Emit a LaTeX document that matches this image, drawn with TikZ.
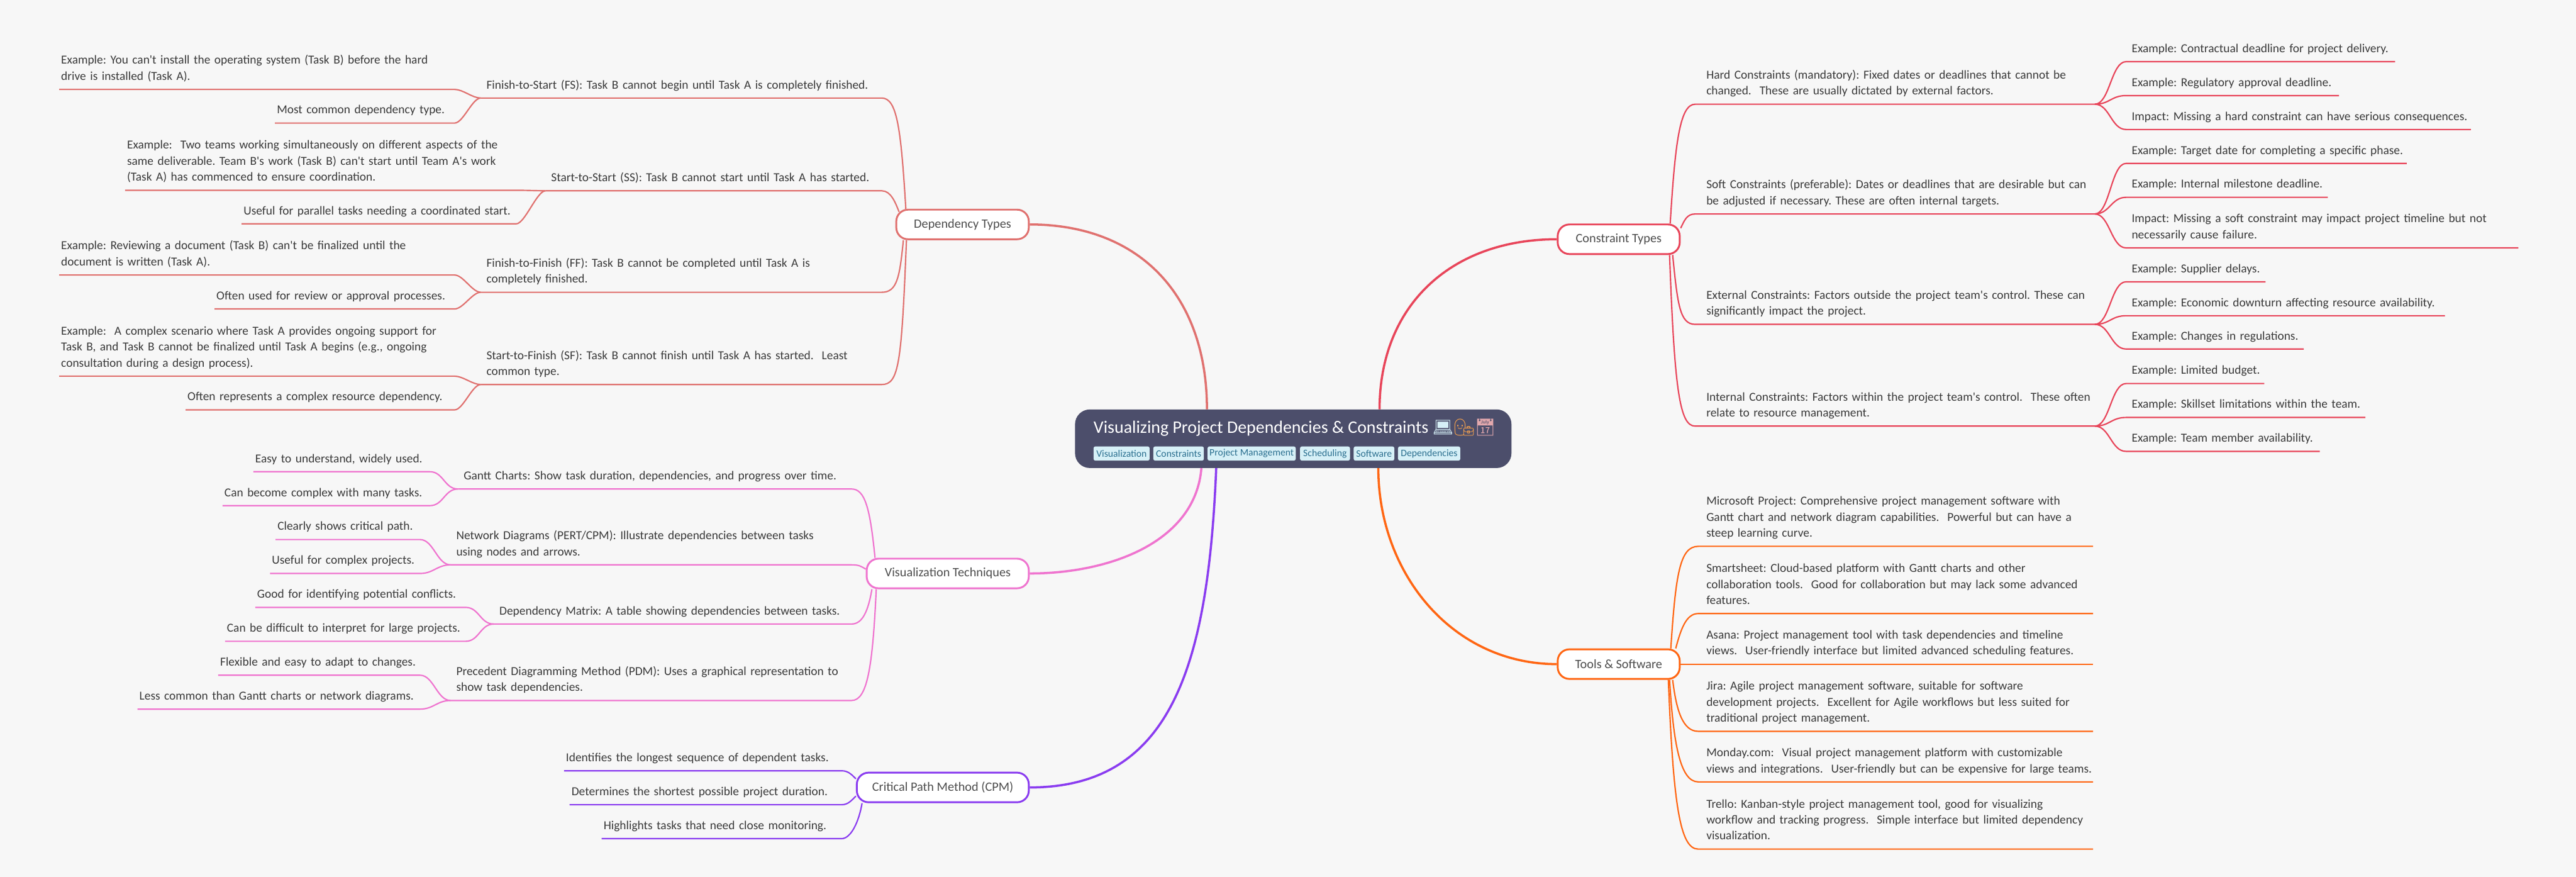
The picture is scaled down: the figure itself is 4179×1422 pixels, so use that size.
\documentclass[tikz,border=0pt]{standalone}
\usepackage{fontspec}
\newfontfamily\mapfont{Carlito}
\newfontfamily\emojifont{Noto Emoji}
\definecolor{bgcol}{HTML}{F7F7F7}
\definecolor{rootcol}{HTML}{4C4E6B}
\definecolor{textcol}{HTML}{3A3A3A}
\definecolor{hubtext}{HTML}{4D4D4D}
\definecolor{tagfill}{HTML}{D6F0F7}
\definecolor{tagtext}{HTML}{2B6F8F}
\definecolor{depcol}{HTML}{E0716F}
\definecolor{viscol}{HTML}{EF74CF}
\definecolor{cpmcol}{HTML}{8A3CF0}
\definecolor{conscol}{HTML}{E8455A}
\definecolor{toolcol}{HTML}{FF6613}
\tikzset{
  item/.style 2 args={anchor=south west,inner xsep=0pt,inner ysep=7pt,text width=#1pt,align=left,
    text=textcol,execute at begin node={\leftskip=#2pt\relax\rightskip=-40pt plus 1fil\relax},execute at end node={\strut}},
  lleaf/.style={item={#1}{3}},
  rleaf/.style={item={#1}{9}},
  mid/.style={item={#1}{9}},
  rmid/.style={item={#1}{18}},
  tool/.style={item={#1}{13}},
  hub/.style={draw=#1,line width=3pt,fill=white,rounded corners=19pt,minimum height=48pt,text=hubtext,inner sep=0pt,font=\mapfont\frenchspacing\fontsize{20.7}{26}\selectfont},
  tagbox/.style={fill=tagfill,rounded corners=3pt,minimum height=23pt,inner sep=0pt,text=tagtext,font=\mapfont\fontsize{16}{20}\selectfont},
  twig/.style={draw=#1,line width=2.2pt},
  limb/.style={draw=#1,line width=3.6pt}
}
\begin{document}
\begin{tikzpicture}[x=1pt,y=-1pt,font=\mapfont\frenchspacing\fontsize{19.8}{26}\selectfont]
    \useasboundingbox (0,0) rectangle (4179,1422);
    \fill[bgcol] (0,0) rectangle (4179,1422);
    % centre
    \node[fill=rootcol,rounded corners=24pt,minimum width=708pt,minimum height=95pt,inner sep=0pt] (root) at (2098,711.5) {};
    \node[anchor=west,inner sep=0pt,text=white,font=\mapfont\frenchspacing\fontsize{28.5}{36}\selectfont] (title) at (1774,693) {Visualizing Project Dependencies \& Constraints {\emojifont\fontsize{27}{36}\selectfont\textcolor{tagfill}{^^^^^^01f4bb}\textcolor{orange!70!white}{^^^^^^01f468^^^^200d^^^^^^01f4bc}\textcolor{red!30!tagfill}{^^^^^^01f4c5}}};
    \node[tagbox,minimum width=91pt] (tagvis) at (1819.5,735.5) {Visualization};
    \node[tagbox,minimum width=82pt] (tagcons) at (1912,735.5) {Constraints};
    \node[tagbox,minimum width=143pt] (tagpm) at (2030.5,735.5) {Project Management};
    \node[tagbox,minimum width=81pt] (tagsched) at (2149.5,735.5) {Scheduling};
    \node[tagbox,minimum width=66pt] (tagsoft) at (2229,735.5) {Software};
    \node[tagbox,minimum width=101pt] (tagdep) at (2318.5,735.5) {Dependencies};
    % hubs
    \node[hub=depcol,minimum width=215pt] (dep) at (1561.5,364) {Dependency Types};
    \node[hub=viscol,minimum width=263pt] (vis) at (1537.5,930) {Visualization Techniques};
    \node[hub=cpmcol,minimum width=279pt] (cpm) at (1529.5,1277) {Critical Path Method (CPM)};
    \node[hub=conscol,minimum width=198pt] (cons) at (2626,388) {Constraint Types};
    \node[hub=toolcol,minimum width=198pt] (tools) at (2626,1077) {Tools \& Software};
    \draw[limb=depcol] (dep.east) .. controls +(179,0) and +(0,-184) .. ([xshift=-140pt]root.north);
    \draw[limb=viscol] (vis.east) .. controls +(130,0) and +(-10,120) .. ([xshift=-149pt]root.south);
    \draw[limb=cpmcol] (cpm.east) .. controls +(230,0) and +(-13,320) .. ([xshift=-125pt]root.south);
    \draw[limb=conscol] (cons.west) .. controls +(-170,0) and +(0,-170) .. ([xshift=140pt]root.north);
    \draw[limb=toolcol] (tools.west) .. controls +(-170,0) and +(0,170) .. ([xshift=138pt]root.south);
    % dependency types
    \node[mid=650] (fs) at (780,159) {Finish-to-Start (FS): Task B cannot begin until Task A is completely finished.};
    \node[lleaf=641] (fsa) at (96,145) {Example: You can't install the operating system (Task B) before the hard\\drive is installed (Task A).};
    \node[lleaf=291] (fsb) at (446,199.6) {Most common dependency type.};
    \node[mid=545] (ss) at (885,309.4) {Start-to-Start (SS): Task B cannot start until Task A has started.};
    \node[lleaf=637] (ssa) at (203,308.6) {Example:~ Two teams working simultaneously on different aspects of the\\same deliverable. Team B's work (Task B) can't start until Team A's work\\(Task A) has commenced to ensure coordination.};
    \node[lleaf=445] (ssb) at (392,363) {Useful for parallel tasks needing a coordinated start.};
    \node[mid=650] (ff) at (780,474) {Finish-to-Finish (FF): Task B cannot be completed until Task A is\\completely finished.};
    \node[lleaf=641] (ffa) at (96,446) {Example: Reviewing a document (Task B) can't be finalized until the\\document is written (Task A).};
    \node[lleaf=389] (ffb) at (348,501) {Often used for review or approval processes.};
    \node[mid=650] (sf) at (780,623.6) {Start-to-Finish (SF): Task B cannot finish until Task A has started.~ Least\\common type.};
    \node[lleaf=641] (sfa) at (96,610) {Example:~ A complex scenario where Task A provides ongoing support for\\Task B, and Task B cannot be finalized until Task A begins (e.g., ongoing\\consultation during a design process).};
    \node[lleaf=436] (sfb) at (301,664.7) {Often represents a complex resource dependency.};
    \draw[twig=depcol] ([xshift=17pt]dep.north west) .. controls +(-8,-130) and +(25,0) .. (fs.south east) -- (fs.south west);
    \draw[twig=depcol] ([xshift=6pt,yshift=-5pt]dep.north west) .. controls +(-6,-15) and +(15,0) .. (ss.south east) -- (ss.south west);
    \draw[twig=depcol] ([xshift=13pt]dep.south west) .. controls +(-6,60) and +(25,0) .. (ff.south east) -- (ff.south west);
    \draw[twig=depcol] ([xshift=18pt]dep.south west) .. controls +(-8,200) and +(28,0) .. (sf.south east) -- (sf.south west);
    \draw[twig=depcol] (fs.south west) .. controls +(-14,0) and +(14,0) .. (fsa.south east) -- (fsa.south west);
    \draw[twig=depcol] (fs.south west) .. controls +(-14,0) and +(14,0) .. (fsb.south east) -- (fsb.south west);
    \draw[twig=depcol] (ss.south west) .. controls +(-14,0) and +(14,0) .. (ssa.south east) -- (ssa.south west);
    \draw[twig=depcol] (ss.south west) .. controls +(-14,0) and +(14,0) .. (ssb.south east) -- (ssb.south west);
    \draw[twig=depcol] (ff.south west) .. controls +(-14,0) and +(14,0) .. (ffa.south east) -- (ffa.south west);
    \draw[twig=depcol] (ff.south west) .. controls +(-14,0) and +(14,0) .. (ffb.south east) -- (ffb.south west);
    \draw[twig=depcol] (sf.south west) .. controls +(-14,0) and +(14,0) .. (sfa.south east) -- (sfa.south west);
    \draw[twig=depcol] (sf.south west) .. controls +(-14,0) and +(14,0) .. (sfb.south east) -- (sfb.south west);
    % visualization techniques
    \node[mid=638] (gantt) at (743,793) {Gantt Charts: Show task duration, dependencies, and progress over time.};
    \node[lleaf=286] (ganta) at (411,765) {Easy to understand, widely used.};
    \node[lleaf=336] (ganb) at (361,820) {Can become complex with many tasks.};
    \node[mid=650] (net) at (731,916) {Network Diagrams (PERT/CPM): Illustrate dependencies between tasks\\using nodes and arrows.};
    \node[lleaf=234] (neta) at (447,875) {Clearly shows critical path.};
    \node[lleaf=243] (netb) at (438,930) {Useful for complex projects.};
    \node[mid=580] (dm) at (801,1012) {Dependency Matrix: A table showing dependencies between tasks.};
    \node[lleaf=341] (dma) at (414,985) {Good for identifying potential conflicts.};
    \node[lleaf=390] (dmb) at (365,1040) {Can be difficult to interpret for large projects.};
    \node[mid=650] (pdm) at (731,1136) {Precedent Diagramming Method (PDM): Uses a graphical representation to\\show task dependencies.};
    \node[lleaf=327] (pdma) at (354,1095) {Flexible and easy to adapt to changes.};
    \node[lleaf=458] (pdmb) at (223,1150) {Less common than Gantt charts or network diagrams.};
    \draw[twig=viscol] ([xshift=15pt]vis.north west) .. controls +(-8,-80) and +(22,0) .. (gantt.south east) -- (gantt.south west);
    \draw[twig=viscol] ([yshift=7pt]vis.west) .. controls +(-8,-5) and +(12,0) .. (net.south east) -- (net.south west);
    \draw[twig=viscol] ([xshift=10pt]vis.south west) .. controls +(-6,35) and +(18,0) .. (dm.south east) -- (dm.south west);
    \draw[twig=viscol] ([xshift=17pt]vis.south west) .. controls +(-6,130) and +(25,0) .. (pdm.south east) -- (pdm.south west);
    \draw[twig=viscol] (gantt.south west) .. controls +(-22,0) and +(22,0) .. (ganta.south east) -- (ganta.south west);
    \draw[twig=viscol] (gantt.south west) .. controls +(-22,0) and +(22,0) .. (ganb.south east) -- (ganb.south west);
    \draw[twig=viscol] (net.south west) .. controls +(-22,0) and +(22,0) .. (neta.south east) -- (neta.south west);
    \draw[twig=viscol] (net.south west) .. controls +(-22,0) and +(22,0) .. (netb.south east) -- (netb.south west);
    \draw[twig=viscol] (dm.south west) .. controls +(-22,0) and +(22,0) .. (dma.south east) -- (dma.south west);
    \draw[twig=viscol] (dm.south west) .. controls +(-22,0) and +(22,0) .. (dmb.south east) -- (dmb.south west);
    \draw[twig=viscol] (pdm.south west) .. controls +(-22,0) and +(22,0) .. (pdma.south east) -- (pdma.south west);
    \draw[twig=viscol] (pdm.south west) .. controls +(-22,0) and +(22,0) .. (pdmb.south east) -- (pdmb.south west);
    % critical path
    \node[lleaf=450] (cpa) at (915,1250) {Identifies the longest sequence of dependent tasks.};
    \node[lleaf=441] (cpb) at (924,1305) {Determines the shortest possible project duration.};
    \node[lleaf=389] (cpc) at (976,1360) {Highlights tasks that need close monitoring.};
    \draw[twig=cpmcol] ([yshift=14pt]cpm.west) .. controls +(-8,-8) and +(10,0) .. (cpa.south east) -- (cpa.south west);
    \draw[twig=cpmcol] ([yshift=-14pt]cpm.west) .. controls +(-8,8) and +(10,0) .. (cpb.south east) -- (cpb.south west);
    \draw[twig=cpmcol] ([xshift=10pt]cpm.south west) .. controls +(-5,30) and +(15,0) .. (cpc.south east) -- (cpc.south west);
    % constraint types
    \node[rmid=648] (hard) at (2750,169) {Hard Constraints (mandatory): Fixed dates or deadlines that cannot be\\changed.~ These are usually dictated by external factors.};
    \node[rleaf=436] (harda) at (3449,100) {Example: Contractual deadline for project delivery.};
    \node[rleaf=345] (hardb) at (3449,155) {Example: Regulatory approval deadline.};
    \node[rleaf=559] (hardc) at (3449,210) {Impact: Missing a hard constraint can have serious consequences.};
    \node[rmid=648] (soft) at (2750,347) {Soft Constraints (preferable): Dates or deadlines that are desirable but can\\be adjusted if necessary. These are often internal targets.};
    \node[rleaf=455] (softa) at (3449,265) {Example: Target date for completing a specific phase.};
    \node[rleaf=327] (softb) at (3449,320) {Example: Internal milestone deadline.};
    \node[rleaf=636] (softc) at (3449,402) {Impact: Missing a soft constraint may impact project timeline but not\\necessarily cause failure.};
    \node[rmid=648] (ext) at (2750,526) {External Constraints: Factors outside the project team's control. These can\\significantly impact the project.};
    \node[rleaf=226] (exta) at (3449,457) {Example: Supplier delays.};
    \node[rleaf=517] (extb) at (3449,512) {Example: Economic downturn affecting resource availability.};
    \node[rleaf=288] (extc) at (3449,566) {Example: Changes in regulations.};
    \node[rmid=648] (int) at (2750,691) {Internal Constraints: Factors within the project team's control.~ These often\\relate to resource management.};
    \node[rleaf=224] (inta) at (3449,622) {Example: Limited budget.};
    \node[rleaf=388] (intb) at (3449,677) {Example: Skillset limitations within the team.};
    \node[rleaf=314] (intc) at (3449,732) {Example: Team member availability.};
    \draw[twig=conscol] ([xshift=-17pt]cons.north east) .. controls +(8,-130) and +(-25,0) .. (hard.south west) -- (hard.south east);
    \draw[twig=conscol] ([yshift=18pt]cons.east) .. controls +(6,-12) and +(-14,0) .. (soft.south west) -- (soft.south east);
    \draw[twig=conscol] ([xshift=-13pt]cons.south east) .. controls +(8,80) and +(-25,0) .. (ext.south west) -- (ext.south east);
    \draw[twig=conscol] ([xshift=-18pt]cons.south east) .. controls +(8,220) and +(-25,0) .. (int.south west) -- (int.south east);
    \foreach \a/\b in {hard/harda,hard/hardb,hard/hardc,soft/softa,soft/softb,soft/softc,ext/exta,ext/extb,ext/extc,int/inta,int/intb,int/intc}
      \draw[twig=conscol] (\a.south east) .. controls +(24,0) and +(-24,0) .. (\b.south west) -- (\b.south east);
    % tools
    \node[tool=640] (msp) at (2755,886) {Microsoft Project: Comprehensive project management software with\\Gantt chart and network diagram capabilities.~ Powerful but can have a\\steep learning curve.};
    \node[tool=640] (smart) at (2755,995) {Smartsheet: Cloud-based platform with Gantt charts and other\\collaboration tools.~ Good for collaboration but may lack some advanced\\features.};
    \node[tool=640] (asana) at (2755,1077) {Asana: Project management tool with task dependencies and timeline\\views.~ User-friendly interface but limited advanced scheduling features.};
    \node[tool=640] (jira) at (2755,1186) {Jira: Agile project management software, suitable for software\\development projects.~ Excellent for Agile workflows but less suited for\\traditional project management.};
    \node[tool=640] (monday) at (2755,1268) {Monday.com:~ Visual project management platform with customizable\\views and integrations.~ User-friendly but can be expensive for large teams.};
    \node[tool=640] (trello) at (2755,1377) {Trello: Kanban-style project management tool, good for visualizing\\workflow and tracking progress.~ Simple interface but limited dependency\\visualization.};
    \draw[twig=toolcol] ([xshift=-16pt]tools.north east) .. controls +(8,-120) and +(-30,0) .. (msp.south west) -- (msp.south east);
    \draw[twig=toolcol] ([xshift=-8pt]tools.north east) .. controls +(8,-30) and +(-20,0) .. (smart.south west) -- (smart.south east);
    \draw[twig=toolcol] (tools.east) -- (asana.south west) -- (asana.south east);
    \draw[twig=toolcol] ([xshift=-13pt]tools.south east) .. controls +(6,50) and +(-25,0) .. (jira.south west) -- (jira.south east);
    \draw[twig=toolcol] ([xshift=-18pt]tools.south east) .. controls +(6,100) and +(-30,0) .. (monday.south west) -- (monday.south east);
    \draw[twig=toolcol] ([xshift=-20pt]tools.south east) .. controls +(8,200) and +(-30,0) .. (trello.south west) -- (trello.south east);
\end{tikzpicture}
\end{document}
